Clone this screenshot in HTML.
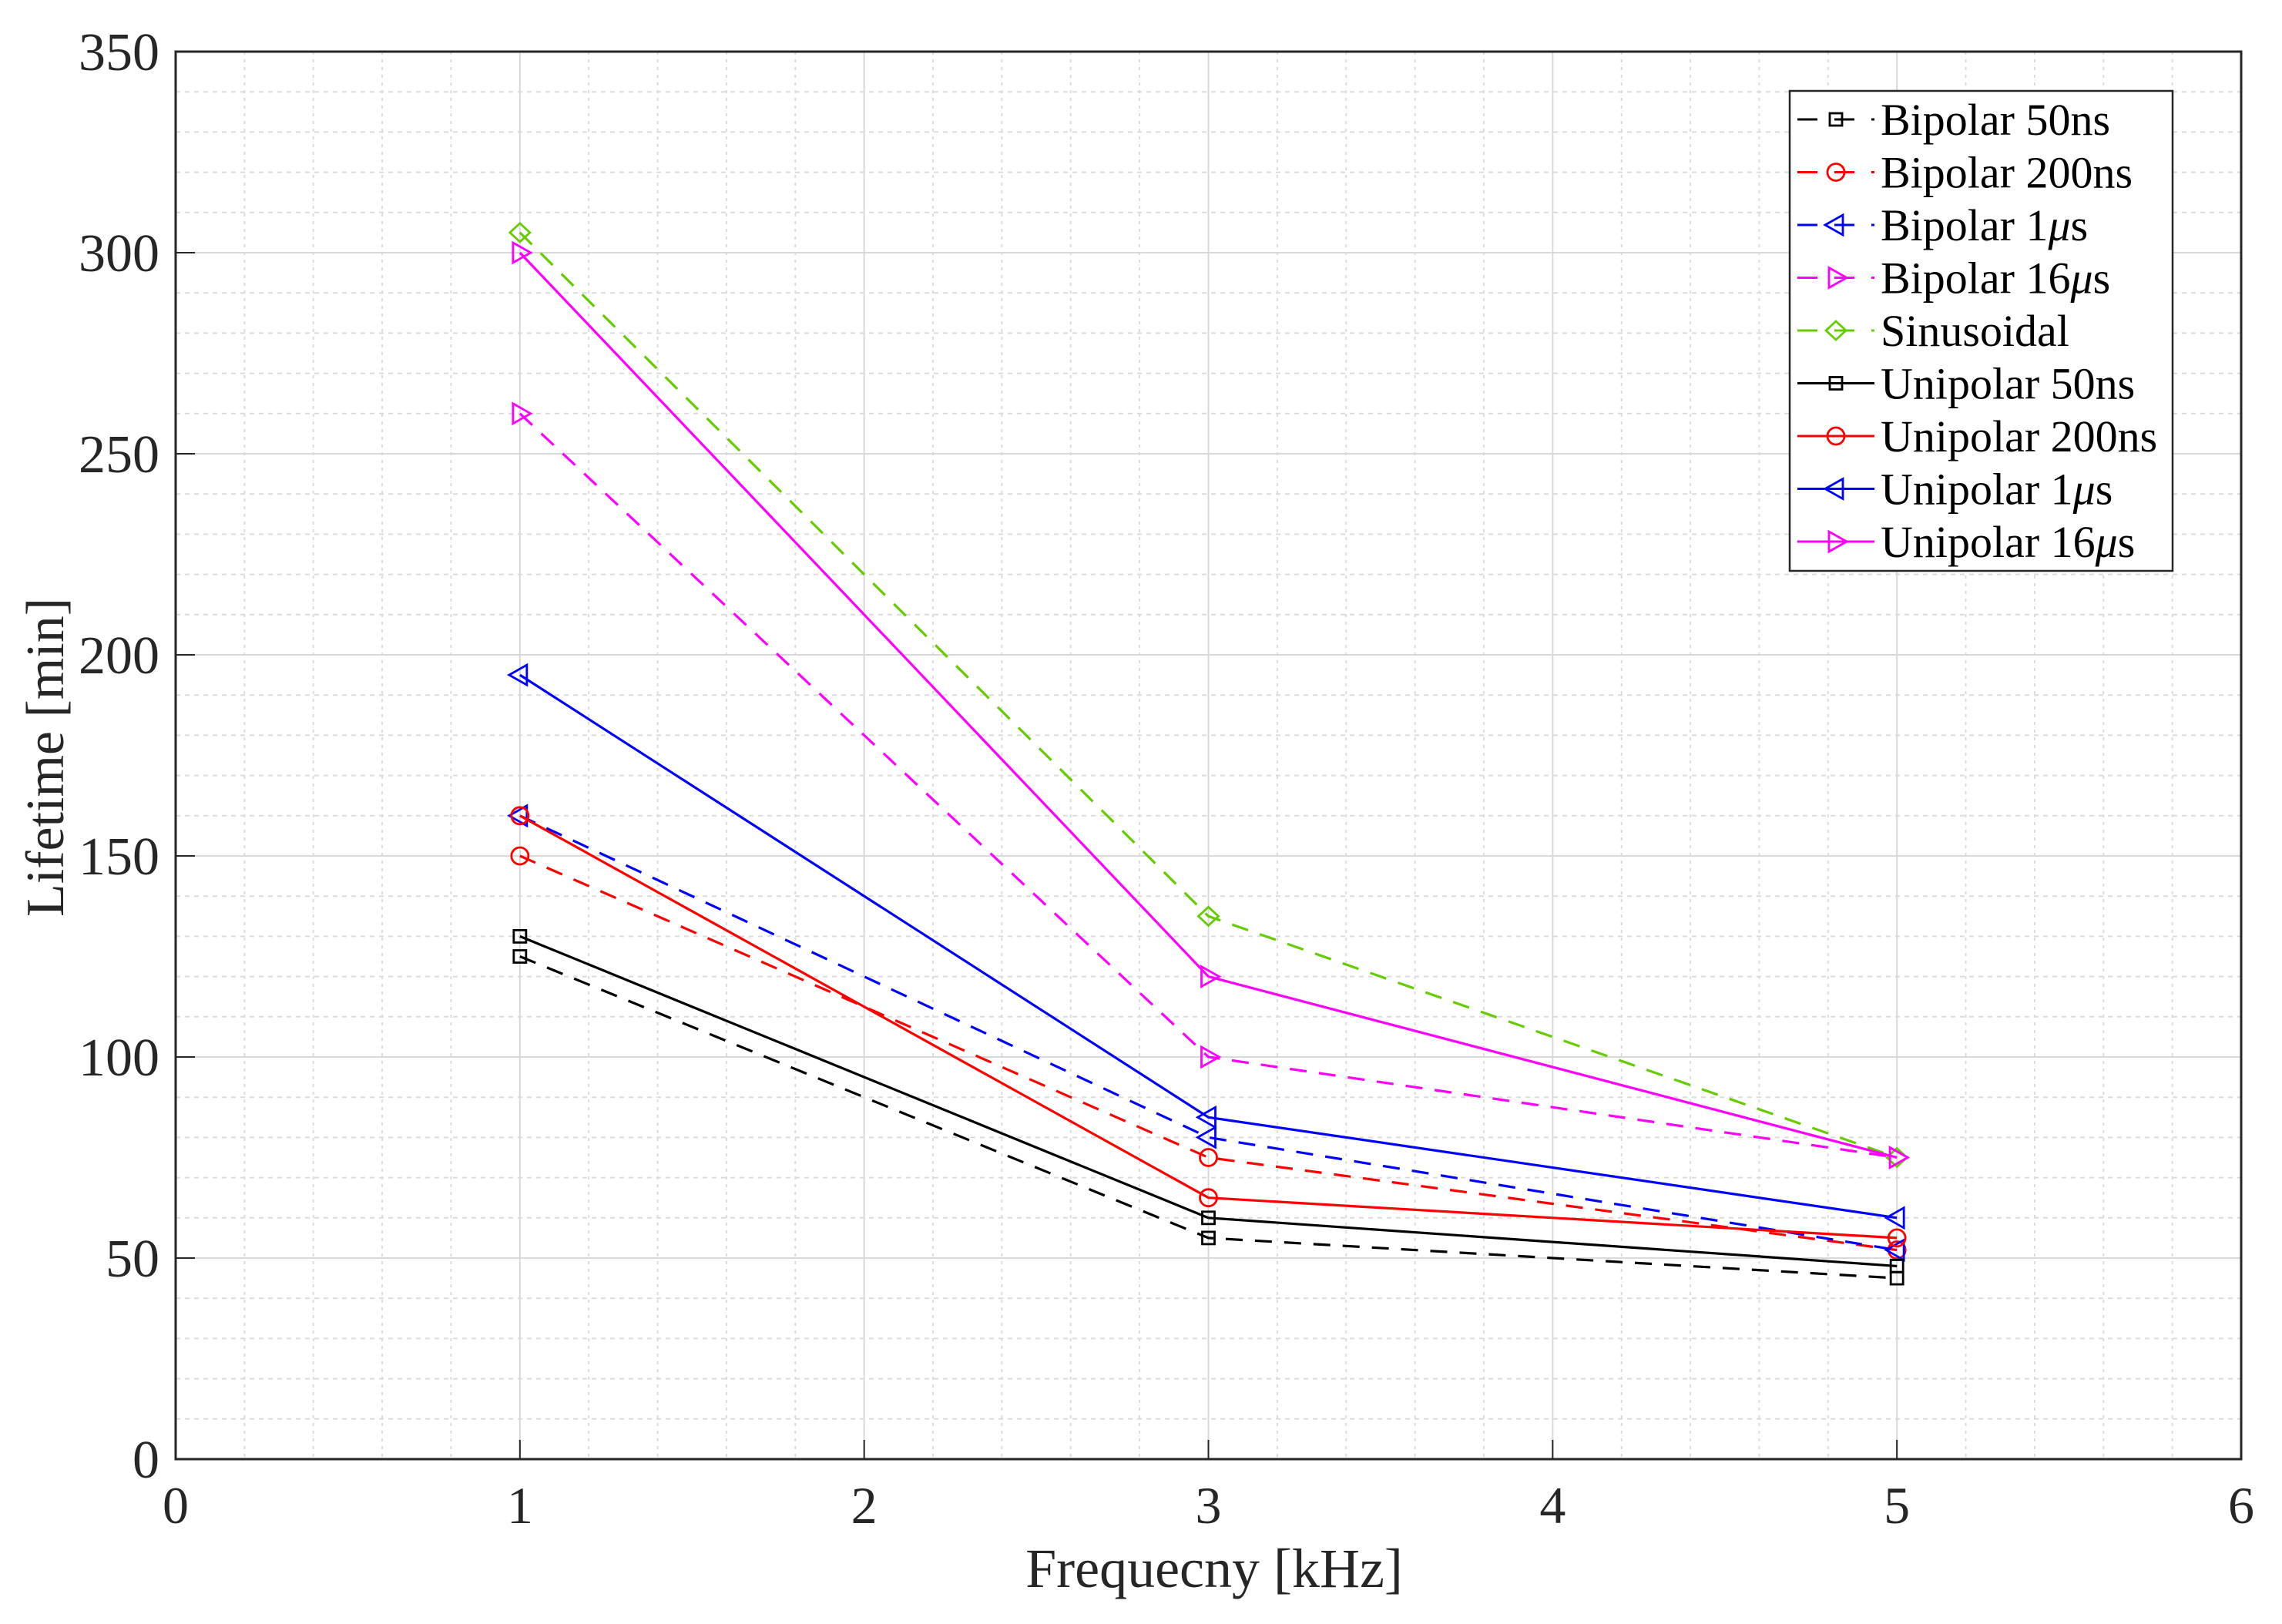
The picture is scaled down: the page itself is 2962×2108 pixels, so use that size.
<!DOCTYPE html>
<html><head><meta charset="utf-8"><style>
html,body{margin:0;padding:0;background:#fff;}
svg{display:block;font-family:"Liberation Serif",serif;}
</style></head><body>
<svg id="chart" width="2962" height="2108" viewBox="0 0 2962 2108" xmlns="http://www.w3.org/2000/svg">
<g id="grid"></g>
<g id="series"></g>
<rect x="228" y="67" width="2681" height="1827" fill="none" stroke="#262626" stroke-width="3"/>
<g id="ticks"></g>
<text x="1576" y="2060" font-size="72" text-anchor="middle" fill="#262626">Frequecny [kHz]</text>
<text transform="translate(82,983) rotate(-90)" font-size="70" text-anchor="middle" fill="#262626">Lifetime [min]</text>
<g id="legend"></g>
</svg>
<script>
const xValues = [1, 3, 5];
const xTicks = [0, 1, 2, 3, 4, 5, 6];
const yTicks = [0, 50, 100, 150, 200, 250, 300, 350];
const seriesPrefix = ["Bipolar 50ns","Bipolar 200ns","Bipolar 1","Bipolar 16","Sinusoidal","Unipolar 50ns","Unipolar 200ns","Unipolar 1","Unipolar 16"];
const seriesMu = [false,false,true,true,false,false,false,true,true];
const bipolar50ns = [125, 55, 45];
const bipolar200ns = [150, 75, 52];
const bipolar1us = [160, 80, 52];
const bipolar16us = [260, 100, 75];
const sinusoidal = [305, 135, 75];
const unipolar50ns = [130, 60, 48];
const unipolar200ns = [160, 65, 55];
const unipolar1us = [195, 85, 60];
const unipolar16us = [300, 120, 75];

const NS = "http://www.w3.org/2000/svg";
const L = 228, R = 2909, T = 67, B = 1894;
const xS = v => L + (v - 0) / 6 * (R - L);
const yS = v => B - (v - 0) / 350 * (B - T);
function mk(tag, attrs, parent) {
  const e = document.createElementNS(NS, tag);
  for (const k in attrs) e.setAttribute(k, attrs[k]);
  parent.appendChild(e);
  return e;
}
const grid = document.getElementById('grid');
for (let v = 0.2; v < 6; v += 0.2) {
  if (Math.abs(v - Math.round(v)) < 1e-6) continue;
  const l = mk('line', {x1: xS(v), x2: xS(v), y1: T, y2: B, stroke: '#dcdcdc', 'stroke-width': 2, 'stroke-dasharray': '4 6'}, grid);
  
  
}
for (let v = 10; v < 350; v += 10) {
  if (v % 50 === 0) continue;
  const l = mk('line', {x1: L, x2: R, y1: yS(v), y2: yS(v), stroke: '#dcdcdc', 'stroke-width': 2, 'stroke-dasharray': '6 6'}, grid);
  
  
}
const ticks = document.getElementById('ticks');
xTicks.forEach(v => {
  const g = mk('line', {x1: xS(v), x2: xS(v), y1: T, y2: B, stroke: '#d9d9d9', 'stroke-width': 2}, grid);
  
  
  const tk = mk('line', {x1: xS(v), x2: xS(v), y1: B, y2: B - 25, stroke: '#262626', 'stroke-width': 2}, ticks);
  
  
  const t = mk('text', {x: xS(v), y: 1977, 'font-size': 68, 'text-anchor': 'middle', fill: '#262626'}, ticks);
  t.textContent = v;
  
  
});
yTicks.forEach(v => {
  const g = mk('line', {x1: L, x2: R, y1: yS(v), y2: yS(v), stroke: '#d9d9d9', 'stroke-width': 2}, grid);
  
  
  const tk = mk('line', {x1: L, x2: L + 25, y1: yS(v), y2: yS(v), stroke: '#262626', 'stroke-width': 2}, ticks);
  
  
  const t = mk('text', {x: 207, y: yS(v) + 24, 'font-size': 70, 'text-anchor': 'end', fill: '#262626'}, ticks);
  t.textContent = v;
  
  
});

const allSeries = [bipolar50ns, bipolar200ns, bipolar1us, bipolar16us, sinusoidal, unipolar50ns, unipolar200ns, unipolar1us, unipolar16us];
const colors = ['#000','#ff0000','#0000ff','#ff00ff','#66cc00','#000','#ff0000','#0000ff','#ff00ff'];
const markers = ['square','circle','left','right','diamond','square','circle','left','right'];
const dashed = [true,true,true,true,true,false,false,false,false];

function marker(parent, type, x, y, c) {
  let e;
  const a = {fill: 'none', stroke: c, 'stroke-width': 2.8};
  if (type === 'square') e = mk('rect', Object.assign({x: x - 8, y: y - 8, width: 16, height: 16}, a), parent);
  else if (type === 'circle') e = mk('circle', Object.assign({cx: x, cy: y, r: 11}, a), parent);
  else if (type === 'left') e = mk('polygon', Object.assign({points: `${x-14},${y} ${x+9},${y-13} ${x+9},${y+13}`}, a), parent);
  else if (type === 'right') e = mk('polygon', Object.assign({points: `${x+14},${y} ${x-9},${y-13} ${x-9},${y+13}`}, a), parent);
  else e = mk('polygon', Object.assign({points: `${x},${y-12} ${x+13},${y} ${x},${y+12} ${x-13},${y}`}, a), parent);
  
  
}

const sg = document.getElementById('series');
allSeries.forEach((vals, i) => {
  const g = mk('g', {}, sg);
  
  
  const pts = vals.map((v, j) => xS(xValues[j]) + ',' + yS(v)).join(' ');
  const pl = mk('polyline', {points: pts, fill: 'none', stroke: colors[i], 'stroke-width': 3.2}, g);
  if (dashed[i]) pl.setAttribute('stroke-dasharray', '22 16');
  
  
  vals.forEach((v, j) => marker(g, markers[i], xS(xValues[j]), yS(v), colors[i]));
});

const lg = document.getElementById('legend');
const box = mk('rect', {x: 2323, y: 118, width: 497, height: 623, fill: '#fff', stroke: '#262626', 'stroke-width': 2.5}, lg);


seriesPrefix.forEach((name, i) => {
  const y = 155 + i * 68.5;
  const g = mk('g', {}, lg);
  
  
  const ln = mk('line', {x1: 2333, x2: 2433, y1: y, y2: y, stroke: colors[i], 'stroke-width': 3}, g);
  if (dashed[i]) ln.setAttribute('stroke-dasharray', '26 22');
  
  
  marker(g, markers[i], 2383, y, colors[i]);
  const t = mk('text', {x: 2441, y: y + 20, 'font-size': 58, fill: '#000'}, g);
  
  
  t.appendChild(document.createTextNode(name));
  if (seriesMu[i]) {
    const mu = mk('tspan', {'font-style': 'italic'}, t);
    mu.textContent = '\u03BC';
    t.appendChild(document.createTextNode('s'));
  }
});
</script>
</body></html>
